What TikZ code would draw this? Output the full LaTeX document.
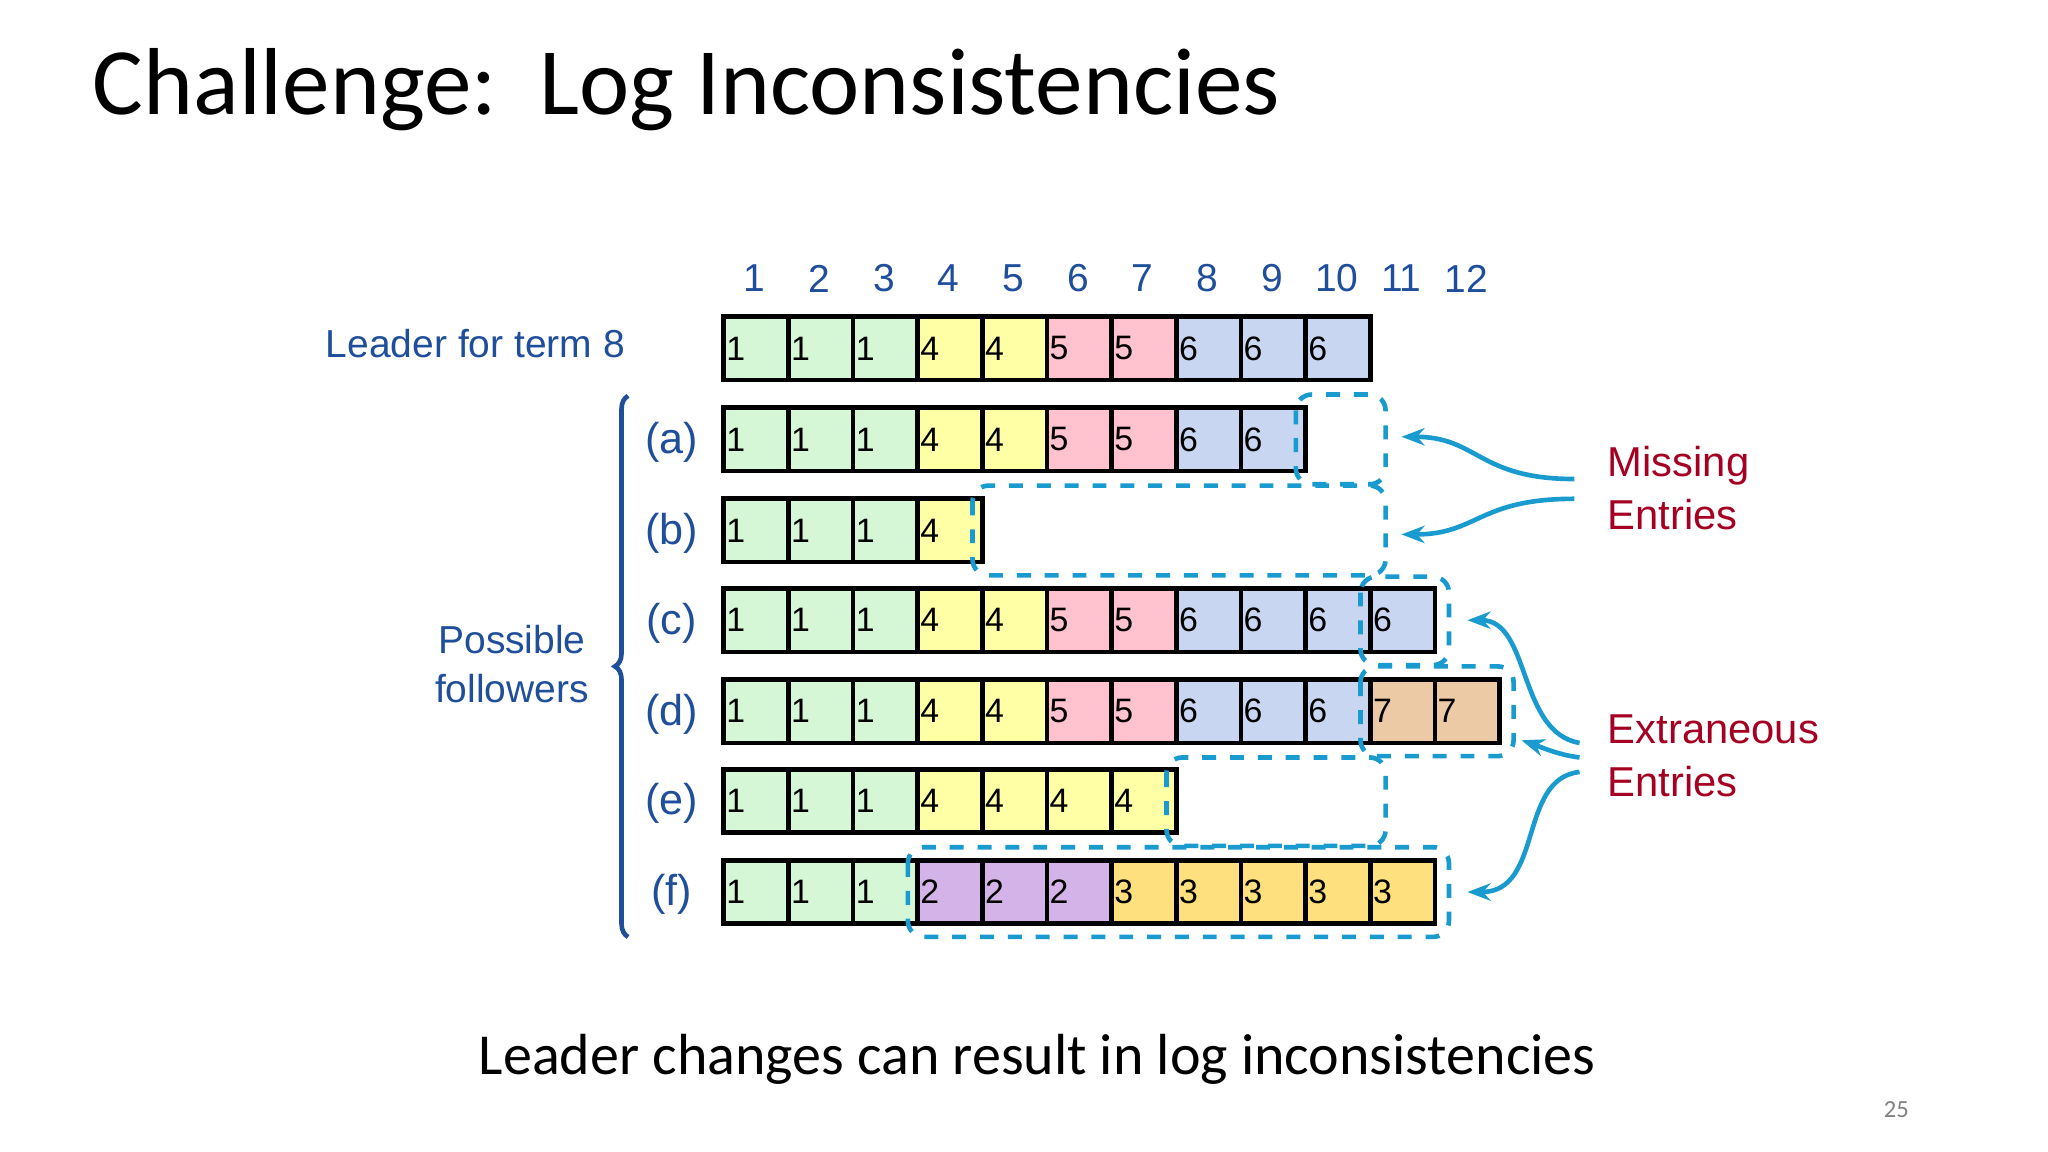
\documentclass[tikz,border=0pt]{standalone}
\usepackage{fontspec}
\setmainfont{Carlito}
\newfontfamily\arialfont{Liberation Sans}
\usetikzlibrary{decorations.pathreplacing,arrows.meta}
\definecolor{t1}{HTML}{D6F7D6}
\definecolor{t2}{HTML}{D3B3E8}
\definecolor{t3}{HTML}{FFE07F}
\definecolor{t4}{HTML}{FFFFA6}
\definecolor{t5}{HTML}{FFC2CE}
\definecolor{t6}{HTML}{C9D6F2}
\definecolor{t7}{HTML}{EDCAA6}
\definecolor{labelblue}{HTML}{1F4E9A}
\definecolor{notered}{HTML}{A50021}
\definecolor{markcyan}{HTML}{1A9BD0}

\begin{document}
\begin{tikzpicture}[x=0.01cm,y=-0.01cm]
    \tikzstyle{logcell}=[draw=black,line width=1pt,minimum width=0.49cm,minimum height=0.48cm,
        text width=0.45cm,inner xsep=0.02cm,align=left,font=\arialfont\fontsize{7.3}{8}\selectfont]
    \tikzstyle{blue label}=[text=labelblue,font=\arialfont\fontsize{8.4}{10.5}\selectfont]
    \tikzstyle{red label}=[text=notered,font=\arialfont\fontsize{9}{11.5}\selectfont,align=left,anchor=west]
    \tikzstyle{gap box}=[draw=markcyan,dashed,line width=1pt,rounded corners=0.12cm]
    \tikzstyle{pointer}=[draw=markcyan,line width=1pt,-{Stealth[length=5pt]}]
    \useasboundingbox (0,0) rectangle (1552,873);

    % Title and caption
    \node[anchor=west,font=\fontsize{20.5}{24}\selectfont] (title) at (58,68) {Challenge:\ \ Log Inconsistencies};
    \node[font=\fontsize{12.5}{15}\selectfont] (caption) at (786,803) {Leader changes can result in log inconsistencies};
    \node[text=black!50,font=\fontsize{5.3}{7}\selectfont] (page) at (1437,841) {25};

    % Log index numbers
    \foreach \i in {1,...,12}
        \node[blue label] (idx-\i) at (572+49*\i-49,211) {\i};

    % Logs of leader and followers
    \foreach \row/\y/\terms in {L/264/{1,1,1,4,4,5,5,6,6,6},
                                a/333/{1,1,1,4,4,5,5,6,6},
                                b/402/{1,1,1,4},
                                c/470/{1,1,1,4,4,5,5,6,6,6,6},
                                d/539/{1,1,1,4,4,5,5,6,6,6,7,7},
                                e/607/{1,1,1,4,4,4,4},
                                f/676/{1,1,1,2,2,2,3,3,3,3,3}}
        \foreach \t [count=\i] in \terms
            \node[logcell,fill=t\t] (\row-\i) at (573+49*\i-49,\y) {\t};

    % Row labels
    \node[blue label,anchor=east] (leader) at (486,260) {Leader for term 8};
    \foreach \row/\y in {a/335,b/404,c/472,d/541,e/609,f/678}
        \node[blue label,font=\arialfont\fontsize{9.3}{11}\selectfont] (lab-\row) at (509,\y) {(\row)};
    \draw[labelblue,line width=1pt,decorate,decoration={brace,amplitude=0.1cm}]
        (476,710) -- (476,300);
    \node[blue label,align=center] (followers) at (388,503) {Possible\\followers};

    % Missing and extraneous parts
    \draw[gap box] (982,299) rectangle (1050,367);
    \draw[gap box] (737,368) rectangle (1050,436);
    \draw[gap box] (1031,437) rectangle (1098,504);
    \draw[gap box] (1031,505) rectangle (1147,573);
    \draw[gap box] (884,574) rectangle (1050,641);
    \draw[gap box] (688,642) rectangle (1098,710);

    \node[red label] (missing) at (1206,370) {Missing\\Entries};
    \node[red label] (extra) at (1206,573) {Extraneous\\Entries};

    \coordinate (m1) at (1193,363);
    \coordinate (m2) at (1193,378);
    \coordinate (x1) at (1197,563);
    \coordinate (x2) at (1197,574);
    \coordinate (x3) at (1197,585);
    \draw[pointer] (m1) .. controls (1120,363) and (1120,331) .. (1062,331);
    \draw[pointer] (m2) .. controls (1120,378) and (1120,405) .. (1062,405);
    \draw[pointer] (x1) .. controls (1150,555) and (1160,470) .. (1112,470);
    \draw[pointer] (x2) .. controls (1180,572) and (1165,565) .. (1153,561);
    \draw[pointer] (x3) .. controls (1150,590) and (1170,676) .. (1112,676);
\end{tikzpicture}
\end{document}
